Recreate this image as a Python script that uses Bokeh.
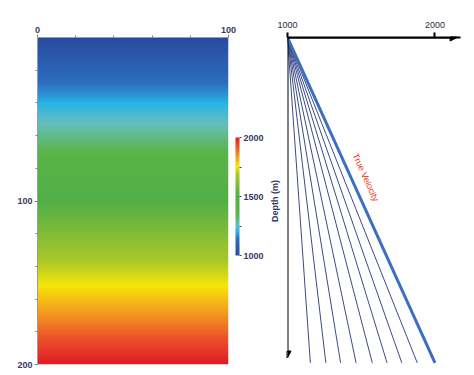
import numpy as np
from bokeh.plotting import figure
from bokeh.layouts import row
from bokeh.models import (Range1d, LinearColorMapper, ColorBar, FixedTicker, Label,
                          Arrow, NormalHead, ColumnDataSource)
from bokeh.embed import file_html
from bokeh.resources import INLINE

# ---------------- data ----------------
depth_top = 0
depth_bottom = 200
v_top = 1000
v_bottom = 2000
width_ticks = [0, 100]
width_minor = [20, 40, 60, 80]
depth_ticks = [100, 200]
depth_minor = [20, 40, 60, 80, 120, 140, 160, 180]
cbar_ticks = [1000, 1500, 2000]
cbar_minor = [1250, 1750]
vel_ticks = [1000, 2000]
fan_end_velocity = [1155, 1260, 1360, 1465, 1575, 1675, 1775, 1880]
true_end_velocity = 2000
pct_labels = ["0%", "100%"]

# colour anchors (velocity, colour)
anchor_v = [1000, 1140, 1200, 1260, 1350, 1500, 1685, 1760, 1836, 1927, 2000]
anchor_c = ["#284ba0", "#2d6ebe", "#28b4e6", "#64bebe", "#5ab446", "#50af46",
            "#aac828", "#f5e60a", "#f5a01e", "#eb5028", "#e01c28"]

def hex2rgb(h):
    return [int(h[i:i + 2], 16) for i in (1, 3, 5)]

rgb = np.array([hex2rgb(c) for c in anchor_c], dtype=float)
pv = np.linspace(v_top, v_bottom, 256)
palette = ["#%02x%02x%02x" % tuple(int(round(np.interp(v, anchor_v, rgb[:, k]))) for k in range(3))
           for v in pv]

FONT = "Liberation Sans"
NAVY = "#363a66"

# ---------------- left panel: velocity image ----------------
depth = np.linspace(depth_top, depth_bottom, 331)
vel = v_top + (v_bottom - v_top) * (depth - depth_top) / (depth_bottom - depth_top)
img = np.tile(vel[:, None], (1, 2))

mapper = LinearColorMapper(palette=palette, low=v_top, high=v_bottom)

p1 = figure(width=266, height=374, output_backend="svg", toolbar_location=None,
            x_range=Range1d(width_ticks[0], width_ticks[-1]),
            y_range=Range1d(depth_bottom, depth_top),
            x_axis_location="above", min_border_left=37, min_border_right=37,
            min_border_top=34, min_border_bottom=10)
p1.image(image=[img], x=width_ticks[0], y=depth_top, dw=width_ticks[-1] - width_ticks[0],
         dh=depth_bottom - depth_top, color_mapper=mapper)
p1.grid.visible = False
p1.outline_line_color = None

p1.xaxis.ticker = FixedTicker(ticks=width_ticks, minor_ticks=width_minor)
p1.yaxis.ticker = FixedTicker(ticks=depth_ticks, minor_ticks=depth_minor)
for ax in (p1.xaxis[0], p1.yaxis[0]):
    ax.axis_line_color = "#9a9aa8"
    ax.major_tick_line_color = "#7a7a90"
    ax.minor_tick_line_color = "#7a7a90"
    ax.major_tick_out = 3
    ax.major_tick_in = 0
    ax.minor_tick_out = 2
    ax.minor_tick_in = 0
    ax.major_label_text_font = FONT
    ax.major_label_text_font_size = "9px"
    ax.major_label_text_font_style = "bold"
    ax.major_label_text_color = NAVY
    ax.major_label_standoff = 2

cbar = ColorBar(color_mapper=mapper, ticker=FixedTicker(ticks=cbar_ticks, minor_ticks=cbar_minor),
                width=4, height=118, location=(7, 109), padding=0, margin=0,
                bar_line_color=None, major_label_text_font=FONT,
                major_label_text_font_size="9px", major_label_text_font_style="bold",
                major_label_text_color=NAVY, label_standoff=2,
                major_tick_line_color=NAVY, major_tick_in=0, major_tick_out=2,
                minor_tick_line_color=NAVY, minor_tick_in=0, minor_tick_out=2,
                background_fill_color=None, border_line_color=None)
p1.add_layout(cbar, "right")

# ---------------- right panel: velocity-depth fan ----------------
p2 = figure(width=200, height=374, output_backend="svg", toolbar_location=None,
            x_range=Range1d(v_top, 2173), y_range=Range1d(depth_bottom + 1, depth_top),
            x_axis_location="above", min_border_left=18, min_border_right=6,
            min_border_top=37, min_border_bottom=6)
p2.grid.visible = False
p2.outline_line_color = None

fan = ColumnDataSource(dict(xs=[[v_top, v] for v in fan_end_velocity],
                            ys=[[depth_top, depth_bottom] for _ in fan_end_velocity]))
p2.multi_line("xs", "ys", source=fan, line_color="#3c4a86", line_width=1)
p2.line([v_top, true_end_velocity], [depth_top, depth_bottom], line_color="#3d6fc0", line_width=3)

xa = p2.xaxis[0]
xa.ticker = FixedTicker(ticks=vel_ticks)
xa.axis_line_color = "black"
xa.axis_line_width = 2
xa.major_tick_line_color = "black"
xa.major_tick_line_width = 2
xa.major_tick_out = 5
xa.major_tick_in = 0
xa.minor_tick_line_color = None
xa.major_label_text_font = FONT
xa.major_label_text_font_size = "9px"
xa.major_label_text_color = "#2b2b3a"
xa.major_label_standoff = 5

ya = p2.yaxis[0]
ya.ticker = FixedTicker(ticks=[])
ya.axis_line_color = None
ya.major_tick_line_color = None
ya.minor_tick_line_color = None
ya.axis_label = "Depth (m)"
ya.axis_label_text_font = FONT
ya.axis_label_text_font_size = "9px"
ya.axis_label_text_font_style = "bold"
ya.axis_label_text_color = NAVY
ya.axis_label_standoff = 8

head = dict(size=7, fill_color="black", line_color="black")
p2.add_layout(Arrow(end=NormalHead(**head), x_start=v_top, y_start=depth_top,
                    x_end=2150, y_end=depth_top, line_color="black", line_width=2))
p2.add_layout(Arrow(end=NormalHead(**head), x_start=v_top, y_start=depth_top,
                    x_end=v_top, y_end=depth_bottom - 3, line_color="black", line_width=2))

p2.add_layout(Label(x=v_top + 355, y=depth_top, y_offset=22, text="Velocity (m/s)", text_font=FONT,
                    text_font_size="9px", text_font_style="bold", text_color=NAVY,
                    text_align="center", text_baseline="middle"))
p2.add_layout(Label(x=1530, y=86, text="True Velocity", text_font=FONT, text_font_size="9px",
                    text_color="#e8401c", angle=-65.8, angle_units="deg",
                    text_align="center", text_baseline="middle"))
p2.add_layout(Label(x=v_top, y=depth_bottom, y_offset=-1, text=pct_labels[0], text_font=FONT,
                    text_font_size="8px", text_color="#e8401c", text_align="center",
                    text_baseline="top"))
p2.add_layout(Label(x=true_end_velocity, y=depth_bottom, x_offset=6, y_offset=-1, text=pct_labels[1],
                    text_font=FONT, text_font_size="8px", text_color="#e8401c",
                    text_align="center", text_baseline="top"))

layout = row(p1, p2)
open("out.html", "w").write(file_html(layout, INLINE))
